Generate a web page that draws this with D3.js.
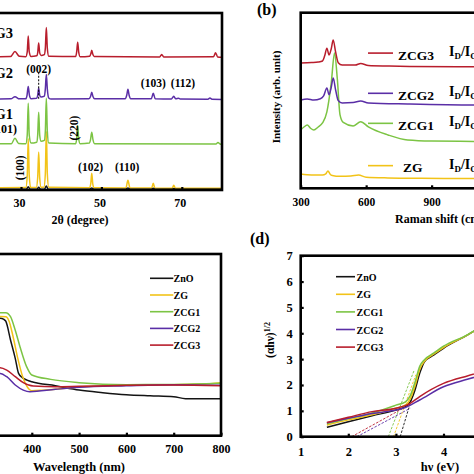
<!DOCTYPE html>
<html>
<head>
<meta charset="utf-8">
<script src="https://cdn.jsdelivr.net/npm/d3@7"></script>
<style>
body{margin:0;background:#fff}
svg text{font-family:"Liberation Serif","Times New Roman",serif;font-weight:bold}
</style>
</head>
<body>
<div id="fig"></div>
<script>
var names = ["ZnO","ZG","ZCG1","ZCG2","ZCG3"]
var colors = ["#141414","#f2c318","#7cc444","#5a2ea6","#b81d2c"]

// (a) XRD, stacked intensity (a.u.)
var xrdZnO = [[10,0.4],[31.3,0.4],[31.8,1.8],[32.3,0.4],[33.9,0.4],[34.4,1.5],[34.9,0.4],[35.8,0.4],[36.3,2.2],[36.8,0.4],[47.1,0.4],[47.6,1.2],[48.1,0.4],[56.1,0.4],[56.6,1.2],[57.1,0.4],[62.4,0.4],[62.9,1],[63.4,0.4],[67.6,0.4],[68,0.9],[68.4,0.4],[80,0.4]]
var xrdZG = [[10,1],[31.2,1.4],[31.55,8],[31.8,29],[32.05,8],[32.4,1.4],[33.8,1.4],[34.15,7],[34.4,21.5],[34.65,7],[35.0,1.5],[35.7,1.6],[36.05,9],[36.3,33],[36.55,9],[36.9,1.5],[47.0,1.3],[47.35,3.5],[47.6,9.5],[47.85,3.5],[48.2,1.3],[56.1,1.2],[56.6,5.5],[57.1,1.2],[62.5,1.1],[62.9,3.8],[63.3,1.1],[67.6,1],[68,2.7],[68.4,1],[80,1]]
var xrdZCG1 = [[10,25.8],[27.6,26.2],[28.5,29.2],[29.4,26.3],[31.2,26.1],[31.55,31],[31.8,49],[32.05,31],[32.5,26.5],[33.9,27],[34.15,31],[34.4,43.9],[34.65,31],[35.0,27.5],[35.8,28],[36.05,33],[36.3,51.8],[36.55,33],[36.9,26.5],[43.6,26.2],[43.85,29],[44.1,36.5],[44.35,29],[44.7,26.2],[47.0,26.5],[47.3,28.5],[47.6,32.6],[47.9,28.5],[48.3,26.2],[78.5,26],[79,26.8],[79.5,26],[80,25.8]]
var xrdZCG2 = [[10,51.2],[27.5,51.5],[28.5,52.7],[29.6,51.5],[31.2,51.5],[31.5,53.5],[31.8,58.5],[32.1,53.5],[32.5,51.6],[33.9,51.8],[34.15,53.5],[34.4,57.5],[34.65,53.5],[35.0,52.5],[35.8,53],[36.05,57],[36.3,65.3],[36.55,57],[36.9,52],[37.5,51.4],[46.9,51.6],[47.3,52.8],[47.6,55.2],[47.9,52.8],[48.3,51.5],[55.9,51.6],[56.3,53.5],[56.6,56.9],[56.9,53.5],[57.3,51.5],[62.4,51.5],[62.9,54.6],[63.4,51.5],[67.4,51.4],[68,52.9],[68.5,51.5],[69.2,51.8],[69.6,51.4],[76.5,51.3],[77,52],[77.5,51.3],[80,51.2]]
var xrdZCG3 = [[10,75],[27.4,75.4],[28.5,78.2],[29.6,75.5],[31.2,75.3],[31.55,78],[31.8,87],[32.05,78],[32.5,75.4],[33.9,75.8],[34.15,77.5],[34.4,83],[34.65,77.5],[35.0,76],[35.8,76.5],[36.05,80],[36.3,91.8],[36.55,80],[36.9,75.6],[43.6,75.4],[43.85,78],[44.1,83.5],[44.35,78],[44.7,75.3],[47.1,75.6],[47.35,76.8],[47.6,79],[47.85,76.8],[48.2,75.4],[64.5,75.2],[65,76.5],[65.5,75.2],[77.9,75.3],[78.4,77.5],[78.9,75.2],[80,75]]
var xrdTicks = [30,50,70]
var xrdPeaks = [{t:"(002)",x:34.4,y:66},{t:"(103)",x:62.9,y:58},{t:"(112)",x:70.3,y:58},{t:"(102)",x:47.3,y:11},{t:"(110)",x:56.4,y:11}]
var xrdRotPeaks = [{t:"(220)",x:43.2,y:35},{t:"(100)",x:29.8,y:12.5}]

// (b) Raman, stacked intensity (a.u.)
var ramanZG = [[300,8.1],[350,7.6],[400,7.6],[415,8.2],[425,9.9],[435,8],[445,7.3],[480,6.8],[530,7],[565,7.6],[600,6.3],[700,5.9],[850,5.7],[1100,5.6],[1800,5.5]]
var ramanZCG1 = [[300,33.2],[315,34.9],[330,36],[345,34.2],[360,33.2],[380,34.9],[400,37.2],[420,43.5],[440,60],[455,77],[468,62],[480,42],[495,37.5],[540,35.5],[575,37.9],[610,35],[700,30.4],[790,27.5],[900,26.9],[1100,26.7],[1800,26.5]]
var ramanZCG2 = [[300,50.3],[330,50.9],[360,50.3],[390,51],[405,52.6],[420,57.1],[430,53.3],[440,57.5],[449,62.8],[460,56],[472,50],[490,48.6],[540,48.8],[575,49.7],[610,48.6],[800,48],[1100,47.4],[1800,47.2]]
var ramanZCG3 = [[300,71.4],[350,71.6],[380,71.9],[400,72.5],[410,75.5],[420,79.7],[430,75.9],[440,79.5],[449,84.5],[460,77.6],[472,71.5],[490,70.2],[550,70.2],[575,71.1],[610,69.9],[700,69.6],[800,69.4],[1100,69.2],[1800,69]]
var ramanTicks = [300,600,900,1200,1500,1800]
var ramanLegendY = [12.9,37,54.1,77]

// (c) UV-vis absorbance (a.u.)
var uvZnO = [[300,0.646],[333,0.646],[341,0.64],[345,0.63],[355,0.527],[365,0.426],[372,0.343],[380,0.32],[390,0.306],[400,0.297],[450,0.275],[500,0.251],[550,0.237],[600,0.226],[650,0.22],[700,0.215],[725,0.204],[800,0.204]]
var uvZG = [[300,0.658],[345,0.655],[352,0.63],[360,0.55],[370,0.43],[380,0.33],[390,0.27],[400,0.248],[420,0.25],[450,0.256],[500,0.268],[600,0.277],[700,0.281],[760,0.284],[800,0.292]]
var uvZCG1 = [[300,0.677],[345,0.677],[355,0.655],[365,0.58],[375,0.49],[389,0.38],[400,0.334],[440,0.31],[500,0.292],[600,0.281],[700,0.282],[800,0.288]]
var uvZCG2 = [[300,0.345],[333,0.343],[347,0.325],[365,0.279],[382,0.251],[396,0.242],[450,0.255],[500,0.266],[600,0.275],[700,0.281],[800,0.277]]
var uvZCG3 = [[300,0.376],[333,0.374],[347,0.361],[365,0.325],[382,0.292],[403,0.273],[450,0.27],[500,0.272],[600,0.277],[700,0.279],[800,0.275]]
var uvTicks = [400,500,600,700,800]

// (d) Tauc plot
var taucZnO = [[1.55,0.36],[2.0,0.58],[2.5,0.81],[3.0,1.03],[3.2,1.16],[3.3,1.35],[3.4,1.8],[3.5,2.45],[3.6,2.9],[3.8,3.16],[4.0,3.42],[4.5,3.93],[4.8,4.26]]
var taucZG = [[1.55,0.45],[2.0,0.65],[2.5,0.85],[3.0,1.1],[3.2,1.22],[3.3,1.45],[3.4,1.95],[3.5,2.6],[3.6,2.92],[3.8,3.2],[4.0,3.45],[4.5,3.93],[4.8,4.25]]
var taucZCG1 = [[1.55,0.5],[2.0,0.7],[2.5,0.92],[3.0,1.22],[3.2,1.35],[3.3,1.58],[3.4,2.1],[3.5,2.72],[3.6,2.98],[3.8,3.24],[4.0,3.5],[4.5,3.94],[4.8,4.27]]
var taucZCG2 = [[1.55,0.54],[2.0,0.71],[2.5,0.9],[3.0,1.03],[3.2,1.13],[3.5,1.42],[4.0,1.93],[4.5,2.22],[4.8,2.38]]
var taucZCG3 = [[1.55,0.55],[2.0,0.75],[2.5,0.97],[3.0,1.1],[3.3,1.29],[3.5,1.55],[4.0,2.06],[4.5,2.35],[4.8,2.5]]
var taucFits = [[[3.09,0],[3.45,2.2]],[[2.95,0],[3.42,2.4]],[[2.84,0],[3.38,2.55]],[[2.18,0],[3.3,1.1]],[[2.07,0],[3.3,1.25]]]
var taucXTicks = [1,2,3,4,5,6]
var taucYTicks = [0,1,2,3,4,5,6,7]

var W = 474, H = 474
var svg = d3.select("#fig").append("svg").attr("width",W).attr("height",H)
var defs = svg.append("defs")

function plotArea(id,x,y){
	var x0=x.range()[0], x1=x.range()[1], y0=y.range()[1], y1=y.range()[0]
	defs.append("clipPath").attr("id",id).append("rect").attr("x",x0).attr("y",y0).attr("width",x1-x0).attr("height",y1-y0)
	return svg.append("g").attr("clip-path","url(#"+id+")")
}
function frame(x,y){
	var x0=x.range()[0], x1=x.range()[1], y0=y.range()[1], y1=y.range()[0]
	svg.append("rect").attr("x",x0).attr("y",y0).attr("width",x1-x0).attr("height",y1-y0)
		.attr("fill","none").attr("stroke","#000").attr("stroke-width",2.6)
}
function styleAxis(g,size){
	g.select(".domain").remove()
	g.selectAll(".tick line").attr("stroke-width",2.2)
	g.attr("font-family",null).attr("font-size",size)
}
function lineFor(x,y,curve){
	return d3.line().x(function(d){return x(d[0])}).y(function(d){return y(d[1])}).curve(curve)
}

// ---------- (a) XRD ----------
var xA = d3.scaleLinear().domain([10,80]).range([-59.4,222])
var yA = d3.scaleLinear().domain([0,100]).range([190,13])
var gA = plotArea("clipA",xA,yA)
var xrd = [xrdZnO,xrdZG,xrdZCG1,xrdZCG2,xrdZCG3]
var orderA = [1,0,2,3,4]
var lA = lineFor(xA,yA,d3.curveMonotoneX)
orderA.forEach(function(i){
	gA.append("path").attr("d",lA(xrd[i])).attr("fill","none").attr("stroke",colors[i]).attr("stroke-width",1.5)
})
gA.append("line").attr("x1",xA(34.4)).attr("x2",xA(34.4)).attr("y1",yA(66.5)).attr("y2",yA(51.5))
	.attr("stroke","#000").attr("stroke-width",1).attr("stroke-dasharray","2,1.5")
frame(xA,yA)
var axA = svg.append("g").attr("transform","translate(0,"+yA(0)+")")
	.call(d3.axisBottom(xA).tickValues(xrdTicks).tickSizeInner(-3).tickSizeOuter(0).tickPadding(8.5))
styleAxis(axA,12)
axA.selectAll(".tick text").attr("dx",-2)
svg.append("text").attr("x",80).attr("y",224).attr("text-anchor","middle").attr("font-size",12).text("2θ (degree)")
var sampleLabelY = [0,0,119,78,38]
;[2,3,4].forEach(function(i){
	svg.append("text").attr("x",13).attr("y",sampleLabelY[i]).attr("text-anchor","end").attr("font-size",14.5).text(names[i])
})
svg.append("text").attr("x",17).attr("y",133).attr("text-anchor","end").attr("font-size",12).text("(101)")
xrdPeaks.forEach(function(p){
	svg.append("text").attr("x",xA(p.x)).attr("y",yA(p.y)).attr("text-anchor","middle").attr("font-size",11.5).text(p.t)
})
xrdRotPeaks.forEach(function(p){
	svg.append("text").attr("transform","translate("+xA(p.x)+","+yA(p.y)+") rotate(-90)")
		.attr("text-anchor","middle").attr("dominant-baseline","central").attr("font-size",11.5).text(p.t)
})

// ---------- (b) Raman ----------
var xB = d3.scaleLinear().domain([300,1800]).range([300.7,628])
var yB = d3.scaleLinear().domain([0,100]).range([188.3,12.7])
var gB = plotArea("clipB",xB,yB)
var raman = [ramanZG,ramanZCG1,ramanZCG2,ramanZCG3]
var lB = lineFor(xB,yB,d3.curveMonotoneX)
raman.forEach(function(s,k){
	gB.append("path").attr("d",lB(s)).attr("fill","none").attr("stroke",colors[k+1]).attr("stroke-width",1.5)
})
frame(xB,yB)
var axB = svg.append("g").attr("transform","translate(0,"+yB(0)+")")
	.call(d3.axisBottom(xB).tickValues(ramanTicks).tickSizeInner(-3).tickSizeOuter(0).tickPadding(10))
styleAxis(axB,11.5)
svg.append("text").attr("x",395).attr("y",223).attr("font-size",12).text("Raman shift (cm")
svg.append("text").attr("transform","translate(280,97) rotate(-90)").attr("text-anchor","middle").attr("font-size",11).text("Intensity (arb. unit)")
svg.append("text").attr("x",257).attr("y",15).attr("font-size",16).text("(b)")
raman.forEach(function(s,k){
	var ly = yB(ramanLegendY[k])
	svg.append("line").attr("x1",368).attr("x2",393).attr("y1",ly).attr("y2",ly).attr("stroke",colors[k+1]).attr("stroke-width",1.6)
	svg.append("text").attr("x",k==0?403:398).attr("y",ly+2).attr("dominant-baseline","central").attr("font-size",13.5).text(names[k+1])
	var t = svg.append("text").attr("x",449).attr("y",ly+3).attr("font-size",14)
	t.append("tspan").text("I")
	t.append("tspan").attr("font-size",9).attr("dy",3).text("D")
	t.append("tspan").attr("dy",-3).text("/I")
	t.append("tspan").attr("font-size",9).attr("dy",3).text("G")
})

// ---------- (c) UV-vis ----------
var xC = d3.scaleLinear().domain([200,800]).range([-62.8,221])
var yC = d3.scaleLinear().domain([0,1]).range([435.7,254])
var gC = plotArea("clipC",xC,yC)
var uv = [uvZnO,uvZG,uvZCG1,uvZCG2,uvZCG3]
var lC = lineFor(xC,yC,d3.curveMonotoneX)
uv.forEach(function(s,i){
	gC.append("path").attr("d",lC(s)).attr("fill","none").attr("stroke",colors[i]).attr("stroke-width",1.5)
})
frame(xC,yC)
var axC = svg.append("g").attr("transform","translate(0,"+yC(0)+")")
	.call(d3.axisBottom(xC).tickValues(uvTicks).tickSizeInner(-3).tickSizeOuter(0).tickPadding(9))
styleAxis(axC,12)
svg.append("text").attr("x",79).attr("y",471).attr("text-anchor","middle").attr("font-size",12.5).text("Wavelength (nm)")
names.forEach(function(n,i){
	var ly = 278.3 + i*16.7
	svg.append("line").attr("x1",150).attr("x2",173.3).attr("y1",ly).attr("y2",ly).attr("stroke",colors[i]).attr("stroke-width",1.6)
	svg.append("text").attr("x",173.5).attr("y",ly+0.5).attr("dominant-baseline","central").attr("font-size",10).text(n)
})

// ---------- (d) Tauc ----------
var xD = d3.scaleLinear().domain([1,6]).range([300.7,538.7])
var yD = d3.scaleLinear().domain([0,7]).range([436.7,255.7])
var gD = plotArea("clipD",xD,yD)
var tauc = [taucZnO,taucZG,taucZCG1,taucZCG2,taucZCG3]
var lD = lineFor(xD,yD,d3.curveMonotoneX)
var lDfit = lineFor(xD,yD,d3.curveLinear)
taucFits.forEach(function(f,i){
	gD.append("path").attr("d",lDfit(f)).attr("fill","none").attr("stroke",colors[i]).attr("stroke-width",0.9).attr("stroke-dasharray","2.5,1.5")
})
tauc.forEach(function(s,i){
	gD.append("path").attr("d",lD(s)).attr("fill","none").attr("stroke",colors[i]).attr("stroke-width",1.5)
})
frame(xD,yD)
var axDx = svg.append("g").attr("transform","translate(0,"+yD(0)+")")
	.call(d3.axisBottom(xD).tickValues(taucXTicks).tickFormat(d3.format("d")).tickSizeInner(-3).tickSizeOuter(0).tickPadding(10))
styleAxis(axDx,12.5)
var axDy = svg.append("g").attr("transform","translate("+xD(1)+",0)")
	.call(d3.axisLeft(yD).tickValues(taucYTicks).tickFormat(d3.format("d")).tickSizeInner(-3).tickSizeOuter(0).tickPadding(8))
styleAxis(axDy,12.5)
svg.append("text").attr("x",440).attr("y",470.5).attr("text-anchor","middle").attr("font-size",12.5).text("hν (eV)")
var yl = svg.append("text").attr("transform","translate(274,340) rotate(-90)").attr("text-anchor","middle").attr("font-size",11.5)
yl.append("tspan").text("(αhν)")
yl.append("tspan").attr("font-size",8).attr("dy",-4).text("1/2")
svg.append("text").attr("x",250).attr("y",244).attr("font-size",16).text("(d)")
names.forEach(function(n,i){
	var ly = 276.7 + i*17.6
	svg.append("line").attr("x1",336).attr("x2",355).attr("y1",ly).attr("y2",ly).attr("stroke",colors[i]).attr("stroke-width",1.6)
	svg.append("text").attr("x",356.5).attr("y",ly+0.5).attr("dominant-baseline","central").attr("font-size",10).text(n)
})
</script>
</body>
</html>
